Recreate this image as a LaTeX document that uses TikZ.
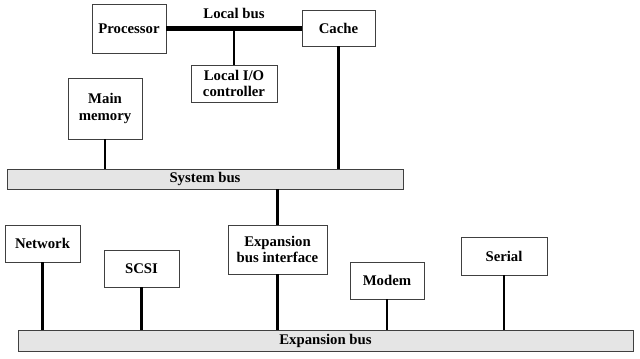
\documentclass[tikz,border=0pt]{standalone}
\usepackage{fontspec}
\setmainfont{Liberation Serif}
\usetikzlibrary{positioning,calc}

\begin{document}
\begin{tikzpicture}[
    x=0.025cm,
    y=-0.025cm,
    font=\bfseries\fontsize{10.5}{11.5}\selectfont,
    unit/.style={
        draw=black!75,
        line width=0.5pt,
        fill=white,
        inner sep=0pt,
        align=center
    },
    bus/.style={unit, fill=black!10},
    link/.style={line width=1.6pt},
    localbus/.style={line width=3pt}
]
\useasboundingbox (0,0) rectangle (640,358);

% ============================================================
% PROCESSOR, CACHE, LOCAL BUS
% ============================================================
\node[unit, minimum width=1.85cm, minimum height=1.225cm] (proc) at (129,28.5) {Processor};
\node[unit, minimum width=1.825cm, minimum height=0.9cm] (cache) at (338.5,28) {Cache};
\node[unit, minimum width=2.15cm, minimum height=0.925cm] (lio) at (234,83.5) {Local I/O\\controller};

\draw[localbus] (proc.east) -- (proc.east -| cache.west)
    node[midway, above=2pt] (lbus) {Local bus};
\draw[link] (lio.north) -- (lio.north |- proc.east);

% ============================================================
% MAIN MEMORY, SYSTEM BUS
% ============================================================
\node[unit, minimum width=1.85cm, minimum height=1.525cm] (mem) at (105,108.5) {Main\\memory};
\node[bus, minimum width=9.9cm, minimum height=0.5cm] (sysbus) at (205,179) {System bus};

\draw[link] (mem.south) -- (mem.south |- sysbus.north);
\draw[link] (cache.south) -- (cache.south |- sysbus.north);

% ============================================================
% EXPANSION BUS AND DEVICES
% ============================================================
\node[unit, minimum width=2.475cm, minimum height=1.225cm] (ebi) at (277.5,249.5) {Expansion\\bus interface};
\node[bus, minimum width=15.375cm, minimum height=0.525cm] (expbus) at (325.5,340.5) {Expansion bus};

\node[unit, minimum width=1.875cm, minimum height=0.925cm] (net) at (42.5,243.5) {Network};
\node[unit, minimum width=1.875cm, minimum height=0.925cm] (scsi) at (141.5,268.5) {SCSI};
\node[unit, minimum width=1.85cm, minimum height=0.925cm] (modem) at (387,280.5) {Modem};
\node[unit, minimum width=2.15cm, minimum height=0.95cm] (serial) at (504,256) {Serial};

\draw[link] (ebi.north) -- (ebi.north |- sysbus.south);
\foreach \dev in {net,scsi,ebi,modem,serial}
    \draw[link] (\dev.south) -- (\dev.south |- expbus.north);

\end{tikzpicture}
\end{document}
